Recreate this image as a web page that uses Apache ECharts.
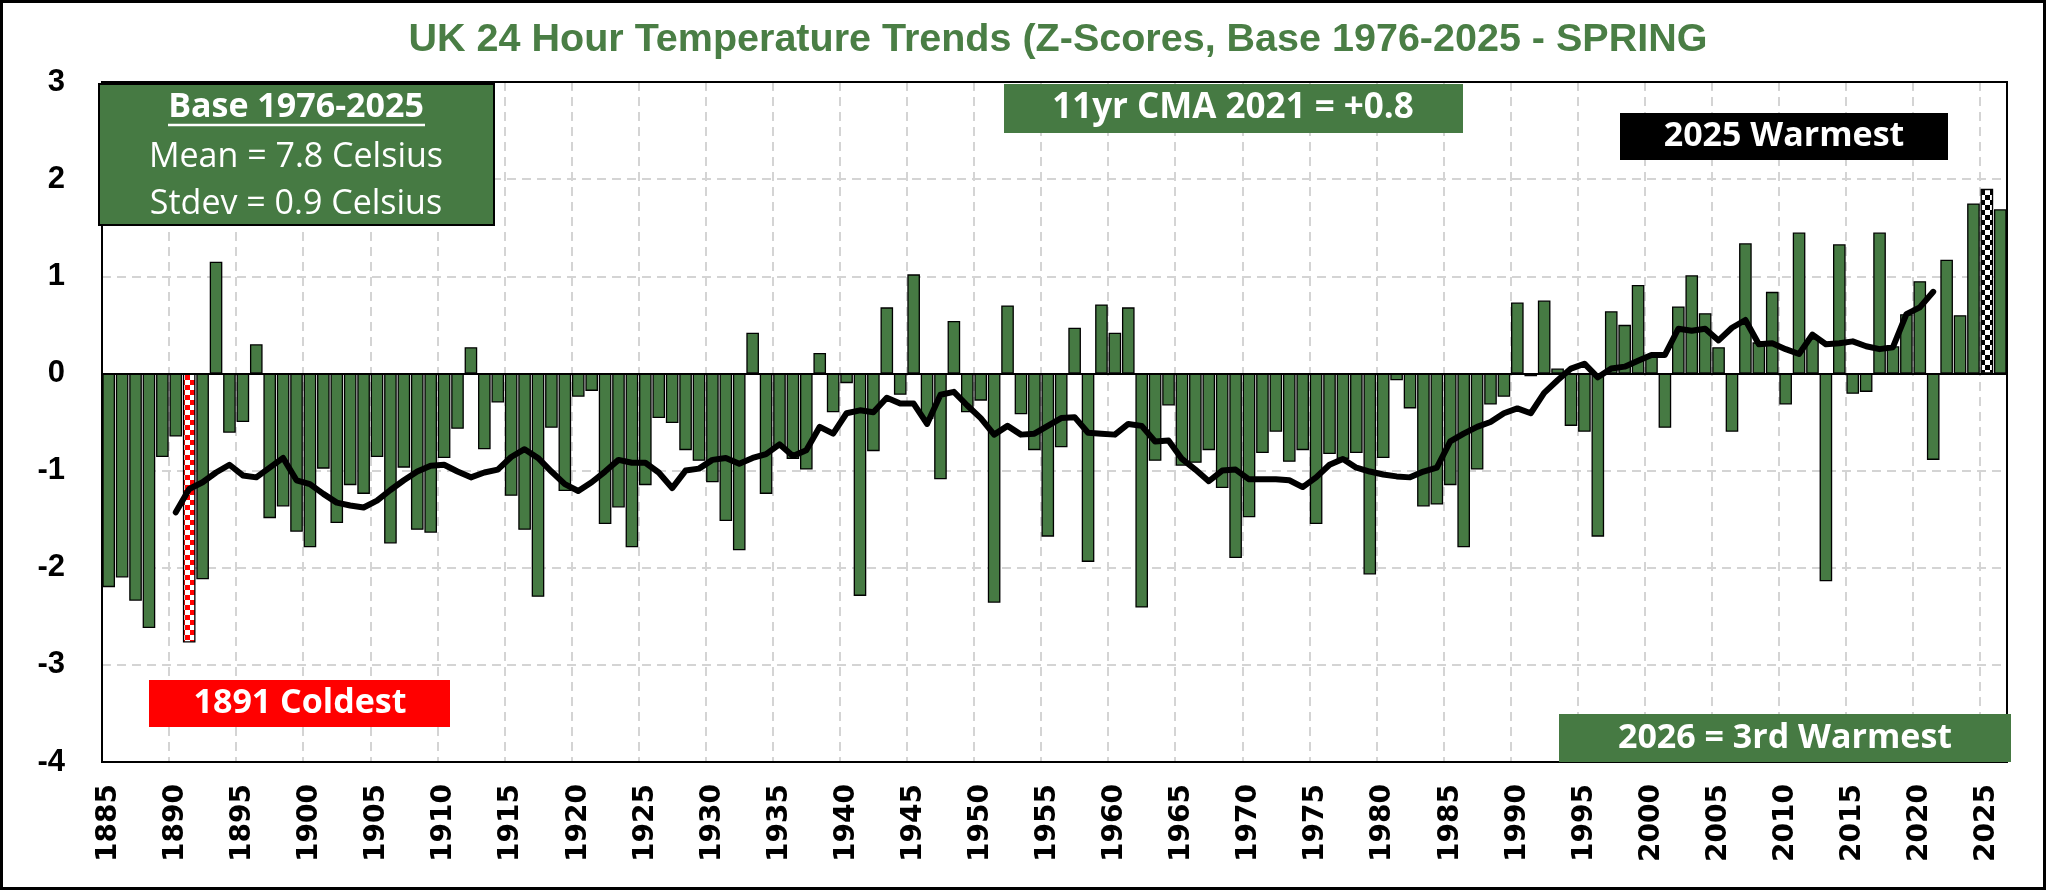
<!DOCTYPE html>
<html><head><meta charset="utf-8">
<script src="https://cdn.jsdelivr.net/npm/echarts@6/dist/echarts.min.js"></script>
<style>html,body{margin:0;padding:0;background:#fff}#c{width:2048px;height:892px}</style>
</head><body><div id="c"></div>
<script>
// ---- data ----
const years = [
 '1885','1886','1887','1888','1889','1890','1891','1892','1893','1894',
 '1895','1896','1897','1898','1899','1900','1901','1902','1903','1904',
 '1905','1906','1907','1908','1909','1910','1911','1912','1913','1914',
 '1915','1916','1917','1918','1919','1920','1921','1922','1923','1924',
 '1925','1926','1927','1928','1929','1930','1931','1932','1933','1934',
 '1935','1936','1937','1938','1939','1940','1941','1942','1943','1944',
 '1945','1946','1947','1948','1949','1950','1951','1952','1953','1954',
 '1955','1956','1957','1958','1959','1960','1961','1962','1963','1964',
 '1965','1966','1967','1968','1969','1970','1971','1972','1973','1974',
 '1975','1976','1977','1978','1979','1980','1981','1982','1983','1984',
 '1985','1986','1987','1988','1989','1990','1991','1992','1993','1994',
 '1995','1996','1997','1998','1999','2000','2001','2002','2003','2004',
 '2005','2006','2007','2008','2009','2010','2011','2012','2013','2014',
 '2015','2016','2017','2018','2019','2020','2021','2022','2023','2024',
 '2025','2026'];
const zScores = [
 -2.20,-2.10,-2.34,-2.62,-0.86,-0.65,-2.77,-2.12, 1.15,-0.61,
 -0.50, 0.30,-1.49,-1.37,-1.63,-1.79,-0.98,-1.54,-1.15,-1.24,
 -0.86,-1.75,-0.97,-1.61,-1.64,-0.87,-0.57, 0.27,-0.78,-0.30,
 -1.26,-1.61,-2.30,-0.56,-1.21,-0.24,-0.18,-1.55,-1.38,-1.79,
 -1.15,-0.46,-0.51,-0.79,-0.90,-1.12,-1.52,-1.82, 0.42,-1.24,
 -0.75,-0.88,-0.99, 0.21,-0.40,-0.10,-2.29,-0.80, 0.68,-0.22,
  1.02,-0.47,-1.09, 0.54,-0.40,-0.28,-2.36, 0.70,-0.42,-0.79,
 -1.68,-0.76, 0.47,-1.94, 0.71, 0.42, 0.68,-2.41,-0.90,-0.33,
 -0.95,-0.92,-0.79,-1.18,-1.90,-1.48,-0.82,-0.60,-0.91,-0.79,
 -1.55,-0.83,-0.88,-0.82,-2.07,-0.87,-0.07,-0.36,-1.37,-1.35,
 -1.15,-1.79,-0.99,-0.32,-0.24, 0.73,-0.03, 0.75, 0.05,-0.54,
 -0.60,-1.68, 0.64, 0.50, 0.91, 0.18,-0.56, 0.69, 1.01, 0.62,
  0.27,-0.60, 1.34, 0.32, 0.84,-0.32, 1.45, 0.36,-2.14, 1.33,
 -0.21,-0.19, 1.45, 0.28, 0.61, 0.95,-0.89, 1.17, 0.60, 1.75,
  1.90, 1.69];
// 11-year centred moving average, 1890..2021
const cmaFirstYear = '1890';
const cma11 = [
 -1.43,-1.19,-1.12,-1.02,-0.94,-1.05,-1.07,-0.97,-0.87,-1.10,
 -1.14,-1.24,-1.33,-1.36,-1.38,-1.31,-1.20,-1.10,-1.01,-0.95,
 -0.94,-1.01,-1.07,-1.02,-0.99,-0.86,-0.78,-0.87,-1.01,-1.14,
 -1.21,-1.12,-1.01,-0.89,-0.92,-0.92,-1.02,-1.18,-1.00,-0.98,
 -0.89,-0.87,-0.93,-0.87,-0.83,-0.73,-0.85,-0.79,-0.55,-0.62,
 -0.41,-0.38,-0.40,-0.25,-0.31,-0.31,-0.52,-0.22,-0.19,-0.33,
 -0.46,-0.63,-0.54,-0.63,-0.62,-0.54,-0.46,-0.45,-0.61,-0.62,
 -0.63,-0.52,-0.54,-0.70,-0.69,-0.88,-0.99,-1.11,-1.00,-0.99,
 -1.09,-1.09,-1.09,-1.10,-1.17,-1.07,-0.94,-0.88,-0.97,-1.01,
 -1.04,-1.06,-1.07,-1.01,-0.97,-0.70,-0.62,-0.55,-0.50,-0.41,
 -0.36,-0.41,-0.20,-0.07, 0.05, 0.10,-0.04, 0.05, 0.07, 0.13,
  0.19, 0.19, 0.46, 0.44, 0.46, 0.34, 0.47, 0.55, 0.30, 0.31,
  0.25, 0.20, 0.40, 0.30, 0.31, 0.33, 0.28, 0.25, 0.27, 0.61,
  0.68, 0.84];
const coldestYear = '1891';
const warmestYear = '2025';
const yMin = -4, yMax = 3, yStep = 1;
const labelEvery = 5;

const titleText = 'UK 24 Hour Temperature Trends (Z-Scores, Base 1976-2025 - SPRING';
const baseLines = ['Base 1976-2025', 'Mean = 7.8 Celsius', 'Stdev = 0.9 Celsius'];
const cmaNote = '11yr CMA 2021 = +0.8';
const warmNote = '2025 Warmest';
const coldNote = '1891 Coldest';
const thirdNote = '2026 = 3rd Warmest';

// ---- styles ----
const GREEN = '#467a43';
const TITLE_GREEN = '#4a7e45';
const GRID_GRAY = '#d4d4d4';
const PLOT = { left: 102, top: 82, right: 2007, bottom: 762 };

function checker(c1, c2, s) {
  const cv = document.createElement('canvas');
  cv.width = cv.height = 2 * s;
  const ctx = cv.getContext('2d');
  ctx.fillStyle = c2; ctx.fillRect(0, 0, 2 * s, 2 * s);
  ctx.fillStyle = c1; ctx.fillRect(0, 0, s, s); ctx.fillRect(s, s, s, s);
  return { image: cv, repeat: 'repeat' };
}
const redCheck = checker('#ff0000', '#ffffff', 5);
const blackCheck = checker('#000000', '#ffffff', 5);

const barData = zScores.map((v, i) => {
  if (years[i] === coldestYear) return { value: v, itemStyle: { color: redCheck } };
  if (years[i] === warmestYear) return { value: v, itemStyle: { color: blackCheck } };
  return v;
});
const cmaStartIdx = years.indexOf(cmaFirstYear);
const lineData = years.map((y, i) => {
  const k = i - cmaStartIdx;
  return (k >= 0 && k < cma11.length) ? cma11[k] : null;
});
const tickFn = (idx) => idx % labelEvery === 0;

const chart = echarts.init(document.getElementById('c'), null, { renderer: 'canvas' });
const annoFont = '"Open Sans", "Noto Sans", sans-serif';

function box(x, y, w, h, fill, stroke) {
  return { type: 'rect', z: 100, shape: { x, y, width: w, height: h },
    style: { fill, stroke: stroke || null, lineWidth: stroke ? 2 : 0 } };
}
function txt(x, y, text, size, weight) {
  return { type: 'text', z: 101, x, y,
    style: { text, fill: '#fff', font: `${weight} ${size}px ${annoFont}`, textAlign: 'center', textVerticalAlign: 'middle' } };
}

chart.setOption({
  backgroundColor: '#fff',
  animation: false,
  grid: { left: PLOT.left, right: 2048 - PLOT.right, top: PLOT.top, bottom: 892 - PLOT.bottom, show: false },
  xAxis: {
    type: 'category', data: years, boundaryGap: true,
    axisLine: { show: false }, axisTick: { show: false },
    axisLabel: { interval: (i) => tickFn(i), rotate: 90, margin: 22, color: '#000',
      fontFamily: '"DejaVu Sans", sans-serif', fontWeight: 'bold', fontSize: 28 },
    splitLine: { show: true, interval: (i) => tickFn(i), lineStyle: { color: GRID_GRAY, width: 2, type: [9, 6] } }
  },
  yAxis: {
    type: 'value', min: yMin, max: yMax, interval: yStep,
    axisLine: { show: false }, axisTick: { show: false },
    axisLabel: { margin: 37, color: '#000', fontFamily: '"Liberation Sans", sans-serif', fontWeight: 'bold', fontSize: 31 },
    splitLine: { show: true, lineStyle: { color: GRID_GRAY, width: 2, type: [9, 6] } }
  },
  series: [
    { type: 'bar', data: barData, barCategoryGap: '6%',
      itemStyle: { color: GREEN, borderColor: '#000', borderWidth: 1.3 },
      markLine: { silent: true, symbol: 'none', label: { show: false },
        lineStyle: { color: '#000', width: 2, type: 'solid' }, data: [{ yAxis: 0 }] },
      z: 2 },
    { type: 'line', data: lineData, symbol: 'none', connectNulls: false,
      lineStyle: { color: '#000', width: 6, join: 'round', cap: 'round' }, z: 5 }
  ],
  graphic: [
    { type: 'rect', z: 200, silent: true, shape: { x: 1.5, y: 1.5, width: 2043, height: 887 },
      style: { fill: null, stroke: '#000', lineWidth: 3 } },
    { type: 'rect', z: 90, silent: true,
      shape: { x: PLOT.left, y: PLOT.top, width: PLOT.right - PLOT.left, height: PLOT.bottom - PLOT.top },
      style: { fill: null, stroke: '#000', lineWidth: 2 } },
    { type: 'text', z: 101, x: 1058, y: 40,
      style: { text: titleText, fill: TITLE_GREEN, font: 'bold 39.5px "Liberation Sans", sans-serif', textAlign: 'center', textVerticalAlign: 'middle' } },
    box(99, 84, 395, 141, GREEN, '#000'),
    txt(296, 107, baseLines[0], 34, 'bold'),
    { type: 'line', z: 101, shape: { x1: 168, y1: 125, x2: 425, y2: 125 }, style: { stroke: '#fff', lineWidth: 2.5 } },
    txt(296, 157, baseLines[1], 34, 'normal'),
    txt(296, 204, baseLines[2], 34, 'normal'),
    box(1004, 84, 459, 49, GREEN),
    txt(1233, 108, cmaNote, 35, 'bold'),
    box(1620, 113, 328, 47, '#000'),
    txt(1784, 136, warmNote, 34, 'bold'),
    box(149, 680, 301, 47, '#ff0000'),
    txt(300, 703, coldNote, 34, 'bold'),
    box(1559, 714, 452, 48, GREEN),
    txt(1785, 738, thirdNote, 34, 'bold')
  ]
});
</script></body></html>
